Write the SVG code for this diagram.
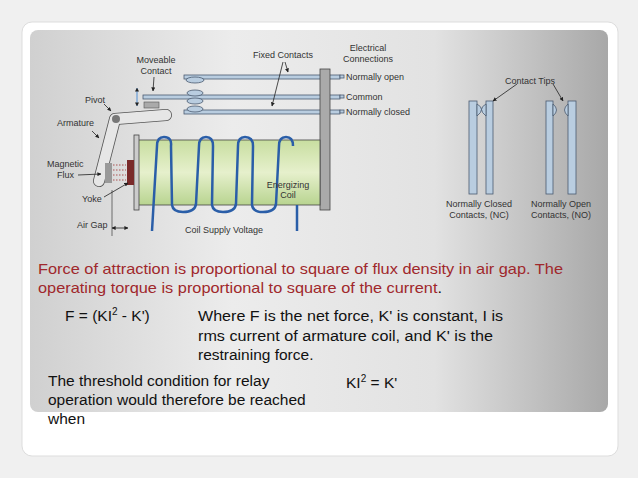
<svg xmlns="http://www.w3.org/2000/svg" width="638" height="478" viewBox="0 0 638 478">
<defs>
<linearGradient id="bg" x1="0" y1="0" x2="1" y2="0"><stop offset="0" stop-color="#d0d0d0"/><stop offset="0.35" stop-color="#ececec"/><stop offset="0.7" stop-color="#e2e2e2"/><stop offset="1" stop-color="#a8a8a8"/></linearGradient>
<linearGradient id="coil" x1="0" y1="0" x2="0" y2="1"><stop offset="0" stop-color="#c8dea0"/><stop offset="0.5" stop-color="#e6f0cc"/><stop offset="1" stop-color="#b8d490"/></linearGradient>
<marker id="ah" viewBox="0 0 10 10" refX="9" refY="5" markerWidth="5" markerHeight="5" orient="auto-start-reverse"><path d="M0,0L10,5L0,10z" fill="#222"/></marker>
<style>
.l{font-family:"Liberation Sans",Arial,sans-serif;font-size:9px;fill:#333}
.bar{fill:#b9cde0;stroke:#4a5a70;stroke-width:0.8}
.ld{stroke:#222;stroke-width:0.8;fill:none;marker-end:url(#ah)}
.t{font-family:"Liberation Sans",Arial,sans-serif;font-size:15.5px;fill:#111}
.r{font-family:"Liberation Sans",Arial,sans-serif;font-size:14.5px;fill:#a0282c}
</style>
</defs>
<rect width="638" height="478" fill="#f0f0f0"/>
<rect x="22" y="22" width="596" height="434" rx="10" fill="#fff" stroke="#ddd"/>
<rect x="30" y="30" width="578" height="382" rx="8" fill="url(#bg)"/>
<g id="contacts">
<rect class="bar" x="184" y="75" width="156" height="4"/>
<rect class="bar" x="143" y="95" width="197" height="4"/>
<rect class="bar" x="184" y="110" width="156" height="4"/>
<ellipse cx="195" cy="80" rx="9" ry="3" class="bar"/>
<ellipse cx="195" cy="93" rx="8" ry="3" class="bar"/>
<ellipse cx="195" cy="101" rx="8" ry="3" class="bar"/>
<ellipse cx="195" cy="109" rx="8" ry="3" class="bar"/>
<rect x="144" y="102" width="15" height="6" fill="#aaa" stroke="#555" stroke-width="0.6"/>
<rect x="340" y="75" width="4" height="3" class="bar"/><rect x="340" y="95" width="4" height="3" class="bar"/><rect x="340" y="110" width="4" height="3" class="bar"/>
<rect x="320" y="69" width="10" height="141" fill="#aaa" stroke="#444" stroke-width="0.8"/>
</g>
<g id="coil">
<rect x="138" y="140" width="182" height="65" fill="url(#coil)" stroke="#444" stroke-width="0.8"/>
<rect x="134" y="135" width="5" height="75" fill="#ccc" stroke="#444" stroke-width="0.8"/>
<rect x="127" y="160" width="7" height="25" fill="#7a2a2a"/>
<path d="M152,231 L157,146 Q157,137 164,137 Q172,137 171,146 L172,205 Q173,212 183,212 Q195,212 196,204 L199,146 Q199,137 206,137 Q213,137 213,146 L212,205 Q213,212 223,212 Q235,212 236,204 L238,146 Q238,137 245,137 Q253,137 253,146 L252,205 Q253,212 263,212 Q275,212 276,204 L279,146 Q279,137 286,137 Q293,137 293,146" fill="none" stroke="#2a5ea8" stroke-width="2.5"/>
<line x1="297" y1="205" x2="297" y2="231" stroke="#2a5ea8" stroke-width="2.5"/>
<text class="l" x="288" y="188" text-anchor="middle">Energizing</text><text class="l" x="288" y="198" text-anchor="middle">Coil</text>
</g>
<g id="armature">
<path d="M115,119 L166,115 M115,119 L99,181" stroke="#555" stroke-width="12" stroke-linecap="round" fill="none"/>
<path d="M115,119 L166,115 M115,119 L99,181" stroke="#e6e6e6" stroke-width="10.4" stroke-linecap="round" fill="none"/>
<circle cx="116" cy="119" r="4" fill="#777"/>
<rect x="105" y="163" width="7" height="20" fill="#999"/>
<g stroke="#a03030" stroke-width="0.8" stroke-dasharray="1.5,1.5"><line x1="113" y1="165" x2="126" y2="165"/><line x1="113" y1="170" x2="126" y2="170"/><line x1="113" y1="175" x2="126" y2="175"/><line x1="113" y1="180" x2="126" y2="180"/></g>
</g>
<g id="labels">
<text class="l" x="156" y="63" text-anchor="middle">Moveable</text><text class="l" x="156" y="74" text-anchor="middle">Contact</text>
<text class="l" x="283" y="58" text-anchor="middle">Fixed Contacts</text>
<text class="l" x="368" y="51" text-anchor="middle">Electrical</text><text class="l" x="368" y="62" text-anchor="middle">Connections</text>
<text class="l" x="346" y="80">Normally open</text><text class="l" x="346" y="100">Common</text><text class="l" x="346" y="115">Normally closed</text>
<text class="l" x="85" y="103">Pivot</text><text class="l" x="57" y="126">Armature</text>
<text class="l" x="47" y="167">Magnetic</text><text class="l" x="57" y="178">Flux</text>
<text class="l" x="82" y="202">Yoke</text><text class="l" x="77" y="228">Air Gap</text>
<text class="l" x="224" y="233" text-anchor="middle">Coil Supply Voltage</text>
<text class="l" x="530" y="84" text-anchor="middle">Contact Tips</text>
<text class="l" x="479" y="207" text-anchor="middle">Normally Closed</text><text class="l" x="479" y="218" text-anchor="middle">Contacts, (NC)</text>
<text class="l" x="561" y="207" text-anchor="middle">Normally Open</text><text class="l" x="561" y="218" text-anchor="middle">Contacts, (NO)</text>
</g>
<g id="tips">
<rect class="bar" x="469" y="101" width="8" height="93"/><rect class="bar" x="486" y="101" width="7" height="93"/>
<path d="M477,104 Q486,109 477,116z M486,104 Q477,109 486,116z" class="bar"/>
<rect class="bar" x="546" y="101" width="7" height="93"/><rect class="bar" x="568" y="101" width="8" height="93"/>
<path d="M553,104 Q560,110 553,116z M568,104 Q561,110 568,116z" class="bar"/>
</g>
<g id="connectors">
<line class="ld" x1="154" y1="77" x2="153" y2="91"/>
<line class="ld" x1="285" y1="62" x2="288" y2="72"/>
<line class="ld" x1="283" y1="62" x2="272" y2="106"/>
<line x1="137" y1="88" x2="137" y2="106" stroke="#2a7ad0" stroke-width="0.8" marker-start="url(#ah)" marker-end="url(#ah)"/>
<line class="ld" x1="104" y1="104" x2="111" y2="111"/>
<line class="ld" x1="92" y1="131" x2="99" y2="138"/>
<line class="ld" x1="78" y1="175" x2="101" y2="174"/>
<line class="ld" x1="104" y1="197" x2="128" y2="183"/>
<line x1="112" y1="190" x2="112" y2="236" stroke="#222" stroke-width="0.6"/>
<line x1="112" y1="228" x2="128" y2="228" stroke="#222" stroke-width="0.8" marker-start="url(#ah)" marker-end="url(#ah)"/>
<line class="ld" x1="517" y1="84" x2="493" y2="101"/>
<line class="ld" x1="553" y1="84" x2="563" y2="101"/>
</g>
<g id="text">
<text class="r" x="38" y="274" textLength="525" lengthAdjust="spacingAndGlyphs">Force of attraction is proportional to square of flux density in air gap. The</text>
<text class="r" x="38" y="293" textLength="404" lengthAdjust="spacingAndGlyphs">operating torque is proportional to square of the current<tspan fill="#111">.</tspan></text>
<text class="t" x="65" y="321">F = (KI<tspan font-size="10" dy="-6">2</tspan><tspan dy="6"> - K')</tspan></text>
<text class="t" x="198" y="321" textLength="305" lengthAdjust="spacingAndGlyphs">Where F is the net force, K' is constant, I is</text>
<text class="t" x="198" y="341" textLength="295" lengthAdjust="spacingAndGlyphs">rms current of armature coil, and K' is the</text>
<text class="t" x="198" y="360">restraining force.</text>
<text class="t" x="48" y="386">The threshold condition for relay</text>
<text class="t" x="48" y="405">operation would therefore be reached</text>
<text class="t" x="48" y="424">when</text>
<text class="t" x="346" y="388">KI<tspan font-size="10" dy="-6">2</tspan><tspan dy="6"> = K'</tspan></text>
</g>
</svg>
